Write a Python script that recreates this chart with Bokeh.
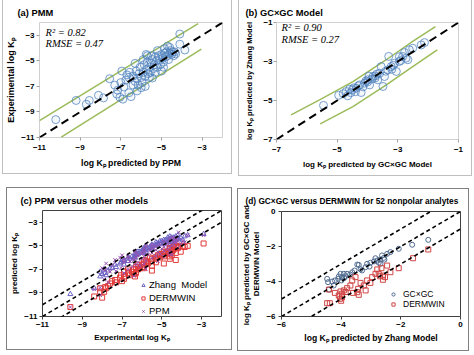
from bokeh.plotting import figure
from bokeh.layouts import row, column
from bokeh.models import FixedTicker, Label, Legend, LegendItem, Range1d, Title
from bokeh.embed import file_html
from bokeh.resources import INLINE

# ---------------- Panel (a): PMM ----------------
a_ppm = [-10.2, -9.2, -8.7, -8.55, -8.1, -7.85, -7.55, -7.3, -7.15, -7.05,
         -6.95, -6.9, -6.75, -6.6, -6.5, -6.4, -6.2, -6.0, -5.8, -5.75,
         -4.1, -3.85, -4.1, -4.7, -7.2, -6.85, -7.0, -6.7, -6.6, -6.55,
         -6.4, -6.3, -6.25, -6.2, -6.1, -6.05, -6.0, -5.95, -5.9, -5.85,
         -5.8, -5.75, -5.7, -5.65, -5.6, -5.55, -5.5, -5.45, -5.4, -5.35,
         -5.3, -5.25, -5.2, -5.15, -5.1, -5.05, -5.0, -4.95, -4.9, -4.85,
         -4.8, -4.75, -4.7, -4.65, -4.6, -4.55, -4.5, -4.45, -4.4, -4.35,
         -4.3, -5.6, -5.3, -5.0, -4.9, -6.3, -5.9, -5.5, -5.2, -4.6,
         -4.85, -5.45, -6.15, -5.7]
a_exp = [-9.6, -8.1, -8.4, -8.1, -7.7, -7.9, -6.4, -6.9, -7.3, -7.85,
         -5.8, -8.0, -6.5, -7.5, -7.8, -6.9, -7.35, -7.1, -7.0, -4.5,
         -2.9, -4.15, -3.7, -3.85, -7.6, -7.05, -6.7, -6.1, -6.3, -5.9,
         -6.2, -6.6, -5.8, -6.4, -6.0, -5.5, -6.3, -6.7, -5.9, -5.3,
         -6.2, -5.7, -5.1, -6.0, -5.5, -5.9, -5.2, -4.9, -5.6, -5.3,
         -4.7, -5.0, -5.5, -4.6, -4.9, -5.3, -4.5, -4.8, -5.1, -4.4,
         -4.7, -4.3, -4.6, -4.9, -4.4, -4.2, -4.5, -4.3, -4.6, -4.3,
         -4.45, -6.3, -5.9, -5.8, -5.5, -5.2, -4.9, -4.6, -4.2, -3.95,
         -4.05, -6.35, -6.9, -4.6]
a_diag = [-11, -2]
a_up_x = [-11.0, -3.2]
a_up_y = [-9.68, -2.09]
a_lo_x = [-9.93, -3.04]
a_lo_y = [-10.97, -4.09]

# ---------------- Panel (b): GCxGC ----------------
b_gc = [-5.45, -4.95, -4.70, -4.59, -4.65, -4.50, -4.40, -4.37, -4.30, -4.26,
        -4.21, -4.15, -4.10, -4.05, -3.99, -3.95, -3.93, -3.85, -3.82, -3.74,
        -3.70, -3.66, -3.60, -3.55, -3.49, -3.44, -3.40, -3.33, -3.30, -3.22,
        -3.20, -3.15, -3.11, -3.05, -2.95, -2.95, -2.90, -2.84, -2.78, -2.73,
        -2.67, -2.62, -2.51, -2.23, -2.12, -4.55, -4.80, -4.45, -4.00, -3.75]
b_zhang = [-5.25, -4.73, -4.54, -4.42, -4.76, -4.45, -4.55, -4.37, -4.25, -4.20,
           -4.59, -4.30, -4.11, -4.00, -3.94, -3.75, -4.20, -3.90, -3.77, -3.74,
           -3.65, -3.94, -3.60, -3.26, -4.28, -3.77, -3.50, -3.43, -2.74, -3.26,
           -3.40, -3.20, -3.09, -3.51, -3.00, -2.75, -2.95, -2.74, -2.54, -2.83,
           -2.91, -2.40, -2.32, -2.15, -2.03, -4.60, -4.65, -4.35, -4.05, -3.85]
b_diag = [-7, -1]
b_up_x = [-6.52, -5.58, -4.48, -3.38, -2.51, -1.76]
b_up_y = [-5.74, -4.97, -4.03, -2.91, -1.97, -1.21]
b_lo_x = [-5.56, -4.48, -3.38, -2.51, -1.70]
b_lo_y = [-6.20, -5.31, -4.20, -3.26, -2.40]

# ---------------- Panel (c): PPM versus other models ----------------
c_exp = a_exp
c_ppm = a_ppm
c_zhang = [-9.1, -7.2, -8.6, -7.6, -7.1, -7.0, -6.0, -6.3, -6.8, -7.3,
           -5.5, -7.4, -5.9, -6.9, -7.5, -6.2, -6.6, -6.5, -6.2, -4.3,
           -4.0, -4.4, -4.1, -4.2, -6.9, -6.4, -6.0, -5.5, -5.6, -5.2,
           -5.7, -6.1, -5.0, -5.9, -5.4, -5.0, -5.8, -6.3, -5.3, -4.7,
           -5.5, -5.2, -4.6, -5.6, -4.9, -5.4, -4.8, -4.5, -5.1, -4.9,
           -4.3, -4.6, -5.2, -4.2, -4.7, -5.0, -4.4, -4.5, -4.8, -4.3,
           -4.6, -4.2, -4.5, -4.8, -4.6, -4.1, -4.7, -4.5, -4.9, -4.8,
           -5.0, -5.8, -5.6, -5.3, -5.3, -4.9, -4.8, -4.4, -4.4, -4.5,
           -4.3, -6.0, -6.6, -4.9]
c_dermwin = [-10.2, -8.6, -9.3, -8.9, -8.4, -8.9, -7.4, -7.6, -8.1, -8.5,
             -6.5, -9.4, -7.2, -8.0, -8.6, -7.8, -7.9, -7.7, -8.0, -5.3,
             -4.8, -5.0, -5.0, -5.1, -8.2, -7.5, -7.0, -6.9, -7.3, -6.8,
             -7.0, -7.5, -6.3, -7.0, -6.6, -6.1, -6.8, -7.3, -6.5, -6.0,
             -6.6, -6.5, -5.7, -6.8, -6.3, -6.2, -5.9, -5.5, -6.0, -6.1,
             -5.6, -5.8, -7.1, -5.2, -5.7, -6.4, -5.4, -5.5, -6.0, -5.1,
             -5.5, -5.0, -5.6, -6.5, -5.3, -5.1, -5.8, -5.6, -5.9, -6.2,
             -5.4, -7.0, -6.9, -6.4, -6.7, -5.8, -5.9, -5.3, -5.2, -5.0,
             -5.5, -7.6, -7.2, -6.1]
c_line_x = [-11, -2]
c_offsets = [1, 0, -1]

# ---------------- Panel (d): GCxGC versus DERMWIN ----------------
d_gc_x = [-4.47, -4.44, -4.21, -4.08, -4.02, -3.97, -3.91, -3.85, -3.80, -3.99,
          -3.63, -3.55, -3.46, -3.41, -3.30, -3.18, -3.13, -3.02, -2.85, -2.79,
          -2.74, -2.63, -2.57, -2.68, -2.46, -2.35, -2.07, -1.62, -1.08, -4.41,
          -4.25, -4.30, -3.90, -3.70, -3.05, -2.90, -2.70, -3.35, -2.55, -4.10]
d_gc_y = [-3.85, -4.04, -3.94, -3.71, -3.56, -3.75, -3.56, -3.70, -3.56, -3.94,
          -3.47, -3.37, -3.03, -3.05, -3.37, -3.18, -2.99, -2.93, -2.67, -2.80,
          -2.93, -2.51, -2.65, -2.99, -2.42, -2.32, -2.13, -1.90, -1.62, -4.46,
          -4.23, -4.00, -3.80, -3.60, -3.15, -2.85, -2.75, -3.30, -2.75, -3.85]
d_derm_x = [-4.47, -4.38, -4.41, -4.21, -4.08, -4.02, -3.97, -3.91, -4.04, -3.97,
            -3.80, -3.69, -3.52, -3.46, -3.43, -3.41, -3.35, -3.18, -3.13, -3.02,
            -2.96, -2.85, -2.79, -2.74, -2.65, -2.60, -2.53, -2.46, -2.35, -2.07,
            -1.59, -1.08, -3.63, -3.24, -4.00, -3.85, -2.70, -3.60, -2.60]
d_derm_y = [-5.24, -5.24, -4.46, -4.65, -4.80, -4.57, -4.70, -4.51, -4.99, -4.90,
            -4.38, -4.23, -3.75, -4.61, -4.42, -4.76, -4.08, -4.51, -3.94, -4.08,
            -3.75, -3.56, -3.31, -3.56, -3.24, -3.66, -3.75, -3.09, -3.47, -3.24,
            -2.67, -2.17, -3.94, -4.23, -5.10, -4.60, -3.70, -4.65, -3.90]
d_line_x = [-6, 0]
d_offsets = [1, 0, -1]

SANS = "Liberation Sans"
SERIF = "Liberation Serif"


def make_panel(xr, yr, xticks, yticks, fw, fh, ml, mr, mt, mb, margin,
               frame_col, panel_col, tick_col, xlab_size, ylab_size):
    p = figure(x_range=Range1d(*xr), y_range=Range1d(*yr),
               frame_width=fw, frame_height=fh,
               min_border_left=ml, min_border_right=mr,
               min_border_top=mt, min_border_bottom=mb,
               output_backend="svg", toolbar_location=None, margin=margin,
               background_fill_color="white", border_fill_color="white",
               styles={"outline": f"1px solid {panel_col}"})
    p.xgrid.visible = False
    p.ygrid.visible = False
    p.outline_line_color = frame_col
    p.outline_line_width = 1
    p.xaxis.ticker = FixedTicker(ticks=xticks)
    p.yaxis.ticker = FixedTicker(ticks=yticks)
    for ax, lab_size in ((p.xaxis[0], xlab_size), (p.yaxis[0], ylab_size)):
        ax.axis_line_color = None
        ax.major_tick_line_color = tick_col
        ax.major_tick_out = 3
        ax.major_tick_in = 0
        ax.minor_tick_line_color = None
        ax.major_label_text_font = SANS
        ax.major_label_text_font_style = "bold"
        ax.major_label_text_font_size = "8px"
        ax.major_label_text_color = "black"
        ax.axis_label_text_font = SANS
        ax.axis_label_text_font_style = "bold"
        ax.axis_label_text_font_size = lab_size
        ax.axis_label_text_color = "black"
    return p


def add_title(p, text, offset, standoff, size="9.3px"):
    p.add_layout(Title(text=text, align="left", offset=offset, standoff=standoff,
                       vertical_align="top",
                       text_font=SANS, text_font_style="bold", text_font_size=size,
                       text_color="black"), "above")


def add_text(p, fx, fy, text, size="10.5px", font=SERIF, style="italic"):
    sx = fx - p.min_border_left
    sy = p.min_border_top + p.frame_height - fy
    p.add_layout(Label(x=sx, y=sy, x_units="screen", y_units="screen", text=text,
                       text_font=font, text_font_style=style, text_font_size=size,
                       text_align="left", text_baseline="middle", text_color="black"))


def add_legend_row(p, label, renderer, vx, vy, row_h, font_size, standoff):
    p.add_layout(Legend(items=[LegendItem(label=label, renderers=[renderer])],
                        location=(vx, vy), border_line_color=None,
                        background_fill_alpha=0, padding=0, margin=0, spacing=0,
                        glyph_width=8, glyph_height=row_h, label_height=row_h,
                        label_standoff=standoff, label_text_font=SANS,
                        label_text_font_size=font_size, label_text_color="black"))


GREEN = "#9BBB59"
BLUE = "#4F81BD"

# ---- (a)
pa = make_panel((-11, -2), (-11, -2), [-11, -9, -7, -5, -3], [-3, -5, -7, -9, -11],
                183, 115, 32, 9, 22, 36, (0, 0, 0, 3), "#D0D0D0", "#BFBFBF", "#A0A0A0",
                "8.7px", "9px")
pa.xaxis.axis_label = "log Kₚ predicted by PPM"
pa.yaxis.axis_label = "Experimental log Kₚ"
pa.xaxis.major_label_standoff = 4
pa.xaxis.axis_label_standoff = 5
pa.yaxis.major_label_standoff = 2
pa.yaxis.axis_label_standoff = 2
pa.line(a_up_x, a_up_y, line_color=GREEN, line_width=1.5)
pa.line(a_lo_x, a_lo_y, line_color=GREEN, line_width=1.5)
pa.scatter(a_ppm, a_exp, marker="circle", size=8, fill_color=BLUE, fill_alpha=0.06,
           line_color=BLUE, line_alpha=0.75, line_width=1)
pa.line(a_diag, a_diag, line_color="black", line_width=2, line_dash="8 5")
add_title(pa, "(a) PMM", -22, 6)
add_text(pa, 38, 32, "R² = 0.82")
add_text(pa, 38, 43, "RMSE = 0.47")

# ---- (b)
pb = make_panel((-7, -1), (-7, -1), [-7, -5, -3, -1], [-1, -3, -5, -7],
                182, 117, 37, 13, 21, 37, (0, 0, 0, 8), "#D0D0D0", "#BFBFBF", "#A0A0A0",
                "8px", "7.6px")
pb.xaxis.axis_label = "log Kₚ predicted by GC×GC Model"
pb.yaxis.axis_label = "log Kₚ predicted by Zhang Model"
pb.xaxis.major_label_standoff = 4
pb.xaxis.axis_label_standoff = 5
pb.yaxis.major_label_standoff = 1
pb.yaxis.axis_label_standoff = 6
pb.line(b_up_x, b_up_y, line_color=GREEN, line_width=1.5)
pb.line(b_lo_x, b_lo_y, line_color=GREEN, line_width=1.5)
pb.scatter(b_gc, b_zhang, marker="circle", size=8, fill_color=BLUE, fill_alpha=0.06,
           line_color=BLUE, line_alpha=0.75, line_width=1)
pb.line(b_diag, b_diag, line_color="black", line_width=2, line_dash="8 5")
add_title(pb, "(b) GC×GC Model", -31, 6)
add_text(pb, 42, 26, "R² = 0.90")
add_text(pb, 42, 38, "RMSE = 0.27")

# ---- (c)
pc = make_panel((-11, -2), (-11, -2), [-11, -9, -7, -5, -3], [-3, -5, -7, -9, -11],
                179, 106, 32, 10, 20, 35, (13, 0, 0, 7), "#404040", "#808080", "#404040",
                "8px", "8px")
pc.xaxis.axis_label = "Experimental log Kₚ"
pc.yaxis.axis_label = "predicted log Kₚ"
pc.xaxis.major_label_standoff = 2
pc.xaxis.axis_label_standoff = 3
pc.yaxis.major_label_standoff = 2
pc.yaxis.axis_label_standoff = 2
r_z = pc.scatter(c_exp, c_zhang, marker="triangle", size=5, fill_color=None,
                 line_color="#6B62C4", line_width=1)
r_d = pc.scatter(c_exp, c_dermwin, marker="square", size=5, fill_color=None,
                 line_color="#E23A3A", line_width=1)
r_p = pc.scatter(c_exp, c_ppm, marker="x", size=5, line_color="#9A4FB0", line_width=1)
for off in c_offsets:
    pc.line(c_line_x, [v + off for v in c_line_x], line_color="black", line_width=1.6,
            line_dash="4 3")
add_legend_row(pc, "Zhang  Model", r_z, 97, 26, 10, "9.5px", 2)
add_legend_row(pc, "DERMWIN", r_d, 97, 13, 10, "9.5px", 2)
add_legend_row(pc, "PPM", r_p, 97, 0, 10, "9.5px", 2)
add_title(pc, "(c) PPM versus other models", -22, 5)

# ---- (d)
pd_ = make_panel((-6, 0), (-6, 0), [-6, -4, -2, 0], [0, -2, -4, -6],
                 179, 105, 41, 8, 22, 34, (14, 0, 0, 7), "#404040", "#808080", "#404040",
                 "8.6px", "8px")
pd_.xaxis.axis_label = "log Kₚ predicted by Zhang Model"
pd_.yaxis.axis_label = "log Kₚ predicted by GC×GC  and\nDERMWIN Model"
pd_.xaxis.major_label_standoff = 2
pd_.xaxis.axis_label_standoff = 3
pd_.yaxis.major_label_standoff = 3
pd_.yaxis.axis_label_standoff = 2
r_g = pd_.scatter(d_gc_x, d_gc_y, marker="circle", size=5, fill_color=None,
                  line_color="#4F6A8F", line_width=1)
r_dd = pd_.scatter(d_derm_x, d_derm_y, marker="square", size=5, fill_color=None,
                   line_color="#D04545", line_width=1)
for off in d_offsets:
    pd_.line(d_line_x, [v + off for v in d_line_x], line_color="black", line_width=1.6,
             line_dash="4 3")
add_legend_row(pd_, "GC×GC", r_g, 108, 17, 10, "8.5px", 6)
add_legend_row(pd_, "DERMWIN", r_dd, 108, 7, 10, "8.5px", 6)
add_title(pd_, "(d) GC×GC versus DERMWIN for 52 nonpolar analytes", -36, 8, size="8.3px")

layout = column(row(pa, pb), row(pc, pd_))
open("out.html", "w").write(file_html(layout, INLINE))
